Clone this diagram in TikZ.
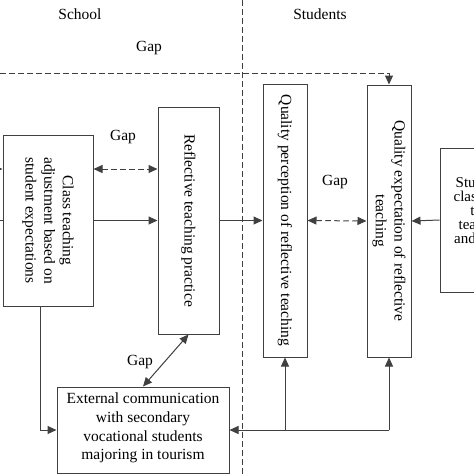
\documentclass[tikz,border=0pt]{standalone}
\usepackage{fontspec}
\setmainfont{Liberation Serif}
\usetikzlibrary{arrows.meta}
\begin{document}
\begin{tikzpicture}[x=1pt,y=-1pt,
  every node/.style={font=\fontsize{15.5}{18.7}\selectfont, text=black},
  box/.style={draw=black!75, line width=1pt, inner sep=0pt},
  lbl/.style={rotate=-90, align=center, inner sep=0pt},
  conn/.style={draw=black!75, line width=1pt},
  arr/.style={conn, -{Triangle[length=9pt,width=8pt]}},
  darr/.style={conn, {Triangle[length=9pt,width=8pt]}-{Triangle[length=9pt,width=8pt]}},
  dsh/.style={dash pattern=on 5.5pt off 3.5pt}
]
\useasboundingbox (0,0) rectangle (474,474);
% boxes
\node[box, minimum width=90pt, minimum height=171pt] (b1) at (48,220.5) {};
\node[lbl] (t1) at (b1) {Class teaching\\adjustment based on\\student expectations};
\node[box, minimum width=61pt, minimum height=227pt] (b2) at (188.5,220.5) {};
\node[lbl] (t2) at (b2) {Reflective teaching practice};
\node[box, minimum width=44pt, minimum height=273pt] (b3) at (285,220.5) {};
\node[lbl] (t3) at (b3) {Quality perception of reflective teaching};
\node[box, minimum width=44pt, minimum height=272pt] (b4) at (389,221) {};
\node[lbl] (t4) at (b4) {Quality expectation of reflective\\teaching};
\node[box, minimum width=90pt, minimum height=144pt] (b5) at (485,220) {};
\node[align=center, inner sep=0pt, font=\fontsize{15}{14}\selectfont] (t5) at (484,210) {Students'\\classroom\\their\\teaching\\and needs};
\node[box, minimum width=172pt, minimum height=86pt] (b6) at (143,430) {};
\node[align=center, inner sep=0pt] (t6) at (143,428) {External communication\\with secondary\\vocational students\\majoring in tourism};
% headings
\node (school) at (80,14) {School};
\node (students) at (320,14) {Students};
\node (gap0) at (149,48) {Gap};
\node (gap1) at (123,137) {Gap};
\node (gap2) at (335,182) {Gap};
\node (gap3) at (140,362) {Gap};
% dashed divider
\coordinate (dtop) at (242,0);
\coordinate (dbot) at (242,474);
\draw[conn, dsh] (dtop) -- (dbot);
% top dashed arrow
\coordinate (tl) at (0,73);
\draw[arr, dsh] (tl) -| (b4.north);
% left incoming
\coordinate (l1) at (-10,169);
\coordinate (l2) at (0,220.5);
\draw[arr] (l1) -- (l1 -| b1.west);
\draw[conn] (l2) -- (b1.west);
% connections
\draw[darr, dsh] ([yshift=51.5pt]b1.east) -- ([yshift=51.5pt]b2.west);
\draw[arr] (b1.east) -- (b2.west);
\draw[arr] (b2.east) -- (b3.west);
\draw[darr, dsh] (b3.east) -- (b4.west);
\draw[arr] (b5.west) -- (b4.east);
\draw[darr] (b2.south) -- (b6.north);
\draw[arr] ([xshift=-8pt]b1.south) |- (b6.west);
\draw[arr] (b4.south |- b6.east) -- (b6.east);
\draw[arr] (b4.south |- b6.east) -- (b4.south);
\draw[arr] (b3.south |- b6.east) -- (b3.south);
\end{tikzpicture}
\end{document}
